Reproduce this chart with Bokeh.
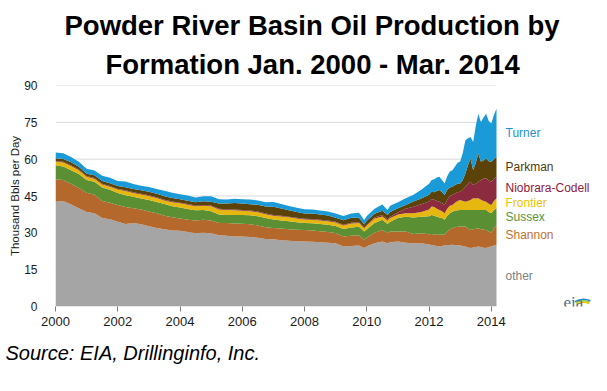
from bokeh.plotting import figure
from bokeh.models import ColumnDataSource, FixedTicker, Range1d, Title
from bokeh.core.properties import value
from bokeh.embed import file_html
from bokeh.resources import INLINE

# ---------------- data (thousand barrels per day) ----------------
months = [
    "2000-01", "2000-04", "2000-07", "2000-10",
    "2001-01", "2001-04", "2001-07", "2001-10",
    "2002-01", "2002-04", "2002-07", "2002-10",
    "2003-01", "2003-04", "2003-07", "2003-10",
    "2004-01", "2004-04", "2004-07", "2004-10",
    "2005-01", "2005-04", "2005-07", "2005-10",
    "2006-01", "2006-04", "2006-07", "2006-10",
    "2007-01", "2007-04", "2007-07", "2007-10",
    "2008-01", "2008-04", "2008-07", "2008-10",
    "2009-01", "2009-04", "2009-07", "2009-10", "2009-12",
    "2010-01", "2010-04", "2010-07", "2010-09", "2010-10",
    "2011-01", "2011-04", "2011-07", "2011-10",
    "2012-01", "2012-02", "2012-03", "2012-04", "2012-05", "2012-06",
    "2012-07", "2012-08", "2012-09", "2012-10", "2012-11", "2012-12",
    "2013-01", "2013-02", "2013-03", "2013-04", "2013-05", "2013-06",
    "2013-07", "2013-08", "2013-09", "2013-10", "2013-11", "2013-12",
    "2014-01", "2014-02", "2014-03",
]

other = [42.7, 43.0, 41.5, 40.0, 38.5, 38.0, 36.0, 35.5, 34.5, 33.6, 34.0, 33.5,
         32.7, 32.0, 31.5, 31.0, 30.8, 30.3, 29.8, 30.0, 29.8, 29.0, 28.8, 28.5,
         28.5, 28.3, 28.0, 27.5, 27.4, 27.0, 26.8, 26.6, 26.5, 26.4, 26.2, 26.0,
         25.8, 24.4, 24.6, 24.8, 23.8, 24.5, 25.8, 26.5, 25.8, 26.2,
         26.5, 26.0, 25.8, 25.8, 25.2,
         25.0, 24.8, 24.6, 24.5, 24.6, 24.9, 25.0, 25.0, 25.1, 25.0, 24.9,
         24.9, 24.5, 24.4, 24.0, 23.8, 24.0, 24.2, 24.4, 24.2, 23.9, 23.8, 24.2,
         24.4, 24.8, 25.1]

shannon = [9.1, 8.5, 8.5, 8.3, 7.8, 7.5, 7.0, 6.8, 6.8, 6.9, 6.0, 6.0,
           6.0, 6.0, 5.5, 5.3, 5.0, 5.0, 5.2, 5.3, 5.2, 5.0, 5.2, 5.3,
           5.2, 5.2, 5.0, 4.8, 4.6, 4.8, 4.7, 4.7, 4.7, 4.6, 4.4, 4.3,
           4.1, 4.1, 4.2, 4.2, 3.4, 3.5, 4.2, 4.7, 4.1, 4.3,
           4.0, 4.5, 3.7, 4.0, 4.2,
           4.5, 4.5, 4.6, 4.7, 4.7, 4.3, 5.5, 6.5, 6.8, 7.3, 7.6,
           7.7, 8.1, 8.2, 7.8, 7.4, 7.5, 7.5, 7.5, 7.3, 7.4, 7.4, 6.3,
           5.6, 7.2, 8.1]

sussex = [5.7, 5.5, 5.5, 5.7, 5.2, 5.3, 5.5, 5.2, 4.9, 4.8, 4.7, 4.5,
          4.7, 4.6, 4.7, 4.5, 4.5, 4.4, 4.2, 4.0, 3.8, 3.5, 3.3, 3.5,
          3.6, 3.7, 3.8, 3.7, 3.4, 3.2, 3.2, 3.0, 2.8, 2.9, 3.0, 3.0,
          2.9, 3.1, 3.4, 3.5, 3.3, 3.5, 4.0, 4.1, 3.7, 4.0,
          5.5, 6.0, 6.7, 6.7, 7.4,
          7.8, 7.7, 7.3, 7.0, 6.7, 6.1, 6.5, 6.5, 6.7, 6.7, 6.7,
          6.7, 6.7, 6.7, 7.5, 8.1, 7.8, 7.6, 7.4, 7.8, 8.0, 8.1, 8.0,
          8.0, 7.3, 6.8]

frontier = [1.5, 1.6, 1.7, 1.5, 1.3, 1.2, 1.2, 1.3, 1.4, 1.7, 1.5, 1.6,
            1.6, 1.6, 1.5, 1.7, 1.7, 1.7, 1.6, 1.7, 2.0, 2.0, 2.0, 1.9,
            1.7, 1.6, 1.6, 1.6, 1.6, 1.7, 1.6, 1.5, 1.4, 1.4, 1.4, 1.4,
            1.4, 1.4, 1.6, 1.5, 1.4, 1.5, 1.8, 1.4, 1.4, 1.5,
            1.5, 1.5, 1.8, 2.0, 2.7,
            3.4, 3.5, 3.3, 3.1, 2.8, 2.7, 2.8, 3.0, 2.7, 3.3, 3.8,
            4.1, 3.7, 3.4, 3.7, 4.1, 4.8, 4.7, 4.8, 4.2, 3.7, 3.4, 3.3,
            3.3, 3.7, 4.1]

niobrara = [0.3, 0.3, 0.3, 0.3, 0.3, 0.3, 0.3, 0.3, 0.3, 0.3, 0.3, 0.3,
            0.3, 0.3, 0.3, 0.3, 0.3, 0.3, 0.3, 0.3, 0.3, 0.3, 0.3, 0.3,
            0.3, 0.3, 0.3, 0.3, 0.3, 0.3, 0.3, 0.3, 0.3, 0.3, 0.3, 0.3,
            0.3, 0.3, 0.3, 0.3, 0.3, 0.3, 0.4, 0.6, 0.5, 0.6,
            0.8, 1.8, 2.6, 3.1, 3.3,
            3.1, 3.0, 3.2, 3.4, 3.2, 3.3, 3.7, 4.0, 4.1, 3.7, 3.5,
            3.3, 4.5, 6.1, 7.0, 7.4, 5.4, 6.0, 6.7, 8.0, 9.0, 9.5, 9.5,
            9.5, 9.0, 8.7]

parkman = [1.1, 1.2, 1.2, 1.1, 1.0, 1.1, 1.1, 1.1, 1.2, 1.3, 1.4, 1.4,
           1.4, 1.4, 1.4, 1.4, 1.4, 1.4, 1.4, 1.6, 1.6, 2.1, 2.3, 2.6,
           2.6, 2.5, 2.7, 2.8, 3.3, 2.9, 2.6, 2.4, 2.2, 2.3, 2.2, 2.1,
           1.6, 1.8, 2.0, 1.8, 1.2, 1.6, 1.6, 1.7, 1.8, 1.9,
           1.7, 1.5, 2.2, 2.4, 2.7,
           2.9, 3.0, 4.0, 4.7, 4.5, 4.1, 4.0, 3.5, 3.4, 3.5, 3.5,
           3.4, 4.0, 5.4, 7.5, 9.5, 6.0, 8.5, 11.5, 7.4, 7.5, 8.1, 7.9,
           8.1, 8.0, 8.1]

turner = [2.3, 2.3, 2.2, 2.0, 2.0, 2.0, 2.1, 2.2, 2.0, 2.3, 2.0, 1.9,
          2.0, 2.0, 2.2, 2.1, 2.0, 2.1, 1.9, 2.0, 2.2, 1.8, 1.7, 1.8,
          1.8, 2.0, 1.8, 1.8, 2.0, 1.8, 1.7, 1.7, 1.7, 1.6, 1.6, 1.6,
          1.8, 1.8, 1.8, 2.1, 1.8, 2.0, 2.0, 2.5, 2.0, 2.5,
          2.5, 2.8, 2.7, 3.5, 4.5,
          4.8, 5.3, 5.5, 5.4, 5.0, 4.7, 5.5, 6.5, 6.7, 7.5, 8.5,
          8.9, 11.0, 13.5, 11.0, 8.7, 11.5, 15.0, 16.2, 16.2, 17.5, 18.2, 16.3,
          15.6, 18.0, 19.6]

series_names = ["other", "Shannon", "Sussex", "Frontier", "Niobrara-Codell", "Parkman", "Turner"]
series_values = [other, shannon, sussex, frontier, niobrara, parkman, turner]
y_ticks = [0, 15, 30, 45, 60, 75, 90]
x_ticks = [2000, 2002, 2004, 2006, 2008, 2010, 2012, 2014]

# ---------------- styles / layout ----------------
fill_colors = ["#a5a5a5", "#b5682c", "#5b8f34", "#e6b70e", "#8c2b3f", "#5a4208", "#1a9ad6"]
label_colors = ["#7f7f7f", "#c0712e", "#5c9234", "#f2c200", "#8e2041", "#4f3a05", "#1e8fd2"]
W, H = 591, 375
FRAME_L, FRAME_T, FRAME_B = 55, 85, 307  # canvas px
DATA_R = 496                             # canvas px where the data end
LABEL_PX = 505                           # canvas px where series labels start
EIA_PX = 563


def decimal_year(m):
    y, mo = m.split("-")
    return int(y) + (int(mo) - 1) / 12.0


xs = [decimal_year(m) for m in months]
x0, x_last = 2000.0, xs[-1]
px_per_year = (DATA_R - FRAME_L) / (x_last - x0)
x_end = x0 + (W - FRAME_L) / px_per_year
label_x = x_last + (LABEL_PX - DATA_R) / px_per_year
eia_x = x_last + (EIA_PX - DATA_R) / px_per_year

data = {"x": xs}
for n, v in zip(series_names, series_values):
    data[n] = v
source = ColumnDataSource(data)

p = figure(width=W, height=H, title=None,
           x_range=Range1d(x0, x_end), y_range=Range1d(0, 90),
           output_backend="svg", toolbar_location=None,
           min_border_left=FRAME_L, min_border_right=0,
           min_border_top=FRAME_T, min_border_bottom=H - FRAME_B)
p.outline_line_color = None
p.background_fill_color = "white"
p.border_fill_color = "white"
p.xgrid.grid_line_color = None
p.ygrid.grid_line_color = None

# horizontal gridlines, only across the data period
grid_y = [t for t in y_ticks if t > 0]
p.segment(x0=[x0] * len(grid_y), x1=[x_last] * len(grid_y), y0=grid_y, y1=grid_y,
          line_color="#d9d9d9", line_width=1)

p.varea_stack(stackers=series_names, x="x", color=fill_colors, source=source)

# axes
p.yaxis.ticker = FixedTicker(ticks=y_ticks)
p.yaxis.axis_line_color = None
p.yaxis.major_tick_line_color = None
p.yaxis.minor_tick_line_color = None
p.yaxis.major_label_standoff = 12
p.yaxis.major_label_text_font = "Liberation Sans"
p.yaxis.major_label_text_font_size = "12px"
p.yaxis.major_label_text_color = "#1a1a1a"
p.yaxis.axis_label = "Thousand Bbls per Day"
p.yaxis.axis_label_text_font = "Liberation Sans"
p.yaxis.axis_label_text_font_style = "normal"
p.yaxis.axis_label_text_font_size = "11.5px"
p.yaxis.axis_label_text_color = "#1a1a1a"
p.yaxis.axis_label_standoff = 0

p.xaxis.ticker = FixedTicker(ticks=x_ticks)
p.xaxis.axis_line_color = None
p.xaxis.major_tick_line_color = "#7f7f7f"
p.xaxis.major_tick_out = 5
p.xaxis.major_tick_in = 0
p.xaxis.minor_tick_line_color = None
p.xaxis.major_label_standoff = 5
p.xaxis.major_label_text_font = "Liberation Sans"
p.xaxis.major_label_text_font_size = "13px"
p.xaxis.major_label_text_color = "#1a1a1a"

# series labels, centred on each layer's final value
mids, cum = [], 0.0
for v in series_values:
    mids.append(cum + v[-1] / 2.0)
    cum += v[-1]
lab_src = ColumnDataSource(dict(x=[label_x] * len(series_names), y=mids,
                                text=series_names, color=label_colors))
p.text(x="x", y="y", text="text", text_color="color", source=lab_src,
       text_align="left", text_baseline="middle",
       text_font=value("Liberation Sans"), text_font_size="12px")

# eia mark: small arcs above the letters
p.arc(x=[eia_x + 20 / px_per_year] * 3, y=[-4.0] * 3, radius=[17, 15.5, 14],
      radius_units="screen", start_angle=1.15, end_angle=2.1,
      line_color=["#1e8fd2", "#8dc63f", "#f2c200"], line_width=1.5)
p.text(x=[eia_x], y=[1.5], text=["eia"], text_align="left", text_baseline="alphabetic",
       text_font=value("Liberation Serif"), text_font_size="17px", text_color="#4a6d8c")

# title (two lines) — last added sits on top
t2 = Title(text="Formation Jan. 2000 - Mar. 2014", align="left", offset=50, standoff=12,
           text_font="Liberation Sans", text_font_style="bold", text_font_size="27.5px",
           text_color="black", vertical_align="bottom")
t1 = Title(text="Powder River Basin Oil Production by", align="left", offset=9, standoff=0,
           text_font="Liberation Sans", text_font_style="bold", text_font_size="27.5px",
           text_color="black", vertical_align="bottom")
p.add_layout(t2, "above")
p.add_layout(t1, "above")

# source note
src_t = Title(text="Source: EIA, Drillinginfo, Inc.", align="left", offset=5 - FRAME_L, standoff=23,
              text_font="Liberation Sans", text_font_style="italic", text_font_size="20px",
              text_color="black", vertical_align="bottom")
p.add_layout(src_t, "below")

open("out.html", "w").write(file_html(p, INLINE))
